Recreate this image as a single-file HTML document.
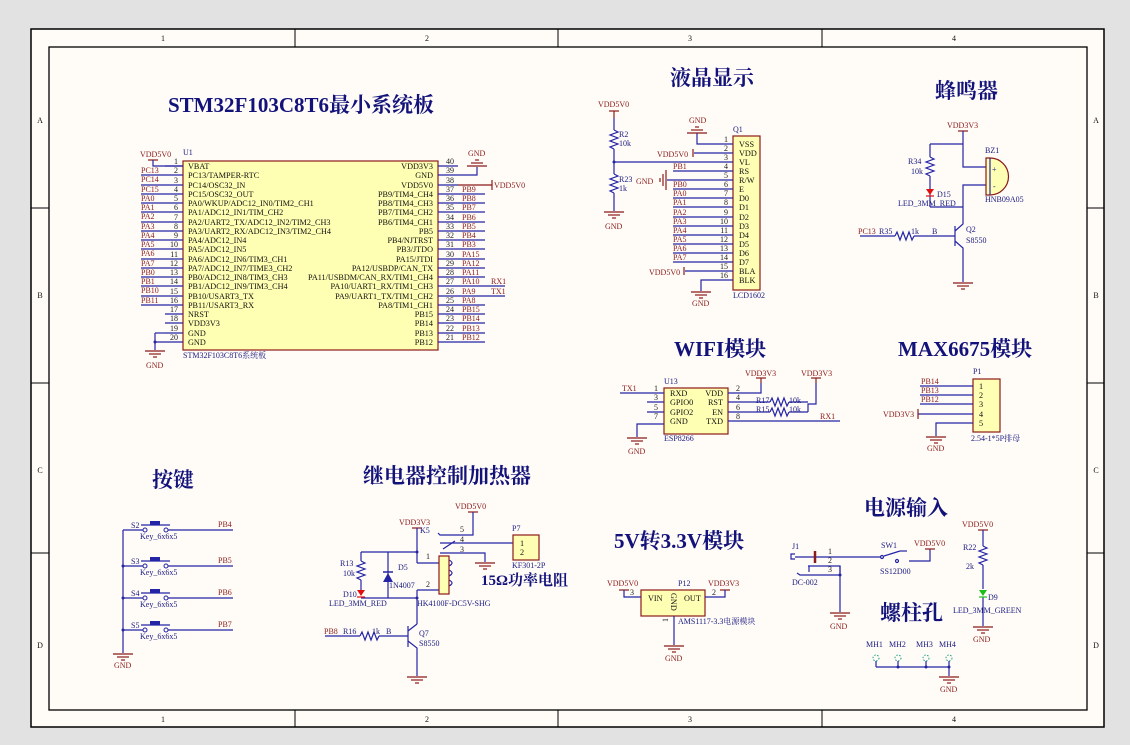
<!DOCTYPE html>
<html><head><meta charset="utf-8"><style>
html,body{margin:0;padding:0;background:#e2e2e2;}
svg{display:block;font-family:"Liberation Serif","Noto Serif CJK SC","Noto Sans CJK SC",serif;}
.w{stroke:#2424a6;stroke-width:1.2;fill:none}
.p{stroke:#8b1a1a;stroke-width:1.2;fill:none}
.b{stroke:#8b1a1a;stroke-width:1.2;fill:#ffffb3}
.k{stroke:#222;stroke-width:1;fill:none}
.n{fill:#8b1a1a;font-size:8px}
.c{fill:#1a1a80;font-size:8px}
.t{fill:#111;font-size:8.2px}
.pn{fill:#222;font-size:8px}
.h{fill:#12127a;font-size:21px;font-weight:bold}
.z{fill:#111;font-size:8px}
</style></head><body>
<svg width="1130" height="745" viewBox="0 0 1130 745" xmlns="http://www.w3.org/2000/svg">
<defs>
<g id="gd"><line x1="-10" y1="0" x2="10" y2="0" stroke="#8b1a1a" stroke-width="1.2"/><line x1="-6" y1="3" x2="6" y2="3" stroke="#8b1a1a" stroke-width="1.2"/><line x1="-2" y1="6" x2="2" y2="6" stroke="#8b1a1a" stroke-width="1.2"/></g>
<g id="rv"><polyline points="0,0 4,2 -4,5 4,8 -4,11 4,14 -4,17 0,19" stroke="#2424a6" stroke-width="1.2" fill="none"/></g>
<g id="rh"><polyline points="0,0 2,-4 5,4 8,-4 11,4 14,-4 17,4 19,0" stroke="#2424a6" stroke-width="1.2" fill="none"/></g>
</defs>
<rect x="0" y="0" width="1130" height="745" fill="#e2e2e2"/>
<rect x="31" y="29" width="1073" height="698" fill="#fffcf7" stroke="#000" stroke-width="1.5"/>
<rect x="49" y="47" width="1038" height="663" fill="none" stroke="#000" stroke-width="1.3"/>
<g stroke="#000" stroke-width="1">
<line x1="295" y1="29" x2="295" y2="47"/><line x1="558" y1="29" x2="558" y2="47"/><line x1="822" y1="29" x2="822" y2="47"/>
<line x1="295" y1="710" x2="295" y2="727"/><line x1="558" y1="710" x2="558" y2="727"/><line x1="822" y1="710" x2="822" y2="727"/>
<line x1="31" y1="208" x2="49" y2="208"/><line x1="31" y1="383" x2="49" y2="383"/><line x1="31" y1="553" x2="49" y2="553"/>
<line x1="1087" y1="208" x2="1104" y2="208"/><line x1="1087" y1="383" x2="1104" y2="383"/><line x1="1087" y1="553" x2="1104" y2="553"/>
</g>
<g class="z" text-anchor="middle">
<text x="163" y="41">1</text><text x="427" y="41">2</text><text x="690" y="41">3</text><text x="954" y="41">4</text>
<text x="163" y="722">1</text><text x="427" y="722">2</text><text x="690" y="722">3</text><text x="954" y="722">4</text>
<text x="40" y="123">A</text><text x="40" y="298">B</text><text x="40" y="473">C</text><text x="40" y="648">D</text>
<text x="1096" y="123">A</text><text x="1096" y="298">B</text><text x="1096" y="473">C</text><text x="1096" y="648">D</text>
</g>

<!-- Titles -->
<text class="h" x="168" y="112">STM32F103C8T6最小系统板</text>
<text class="h" x="670" y="85">液晶显示</text>
<text class="h" x="935" y="98">蜂鸣器</text>
<text class="h" x="674" y="356">WIFI模块</text>
<text class="h" x="898" y="356">MAX6675模块</text>
<text class="h" x="152" y="487">按键</text>
<text class="h" x="363" y="483">继电器控制加热器</text>
<text class="h" x="614" y="548">5V转3.3V模块</text>
<text class="h" x="864" y="515">电源输入</text>
<text class="h" x="880" y="620">螺柱孔</text>

<!-- MCU -->
<rect class="b" x="183" y="161" width="255" height="189"/>
<text class="c" x="183" y="155">U1</text>
<text class="c" x="183" y="358">STM32F103C8T6系统板</text>
<text class="n" x="140" y="157">VDD5V0</text>
<line class="p" x1="148" y1="160" x2="158" y2="160"/><polyline class="w" points="153,160 153,166 183,166"/>
<g class="w">
<line x1="165" y1="166" x2="183" y2="166"/>
<line x1="141" y1="175" x2="183" y2="175"/><line x1="141" y1="185" x2="183" y2="185"/><line x1="141" y1="194" x2="183" y2="194"/>
<line x1="141" y1="203" x2="183" y2="203"/><line x1="141" y1="212" x2="183" y2="212"/><line x1="141" y1="222" x2="183" y2="222"/>
<line x1="141" y1="231" x2="183" y2="231"/><line x1="141" y1="240" x2="183" y2="240"/><line x1="141" y1="249" x2="183" y2="249"/>
<line x1="141" y1="259" x2="183" y2="259"/><line x1="141" y1="268" x2="183" y2="268"/><line x1="141" y1="277" x2="183" y2="277"/>
<line x1="141" y1="286" x2="183" y2="286"/><line x1="141" y1="296" x2="183" y2="296"/><line x1="141" y1="305" x2="183" y2="305"/>
<line x1="165" y1="314" x2="183" y2="314"/><line x1="165" y1="323" x2="183" y2="323"/><line x1="165" y1="333" x2="183" y2="333"/>
<polyline points="183,342 155,342 155,350"/><line x1="155" y1="333" x2="155" y2="342"/><line x1="165" y1="333" x2="155" y2="333"/>
</g>
<circle cx="155" cy="342" r="1.5" fill="#2424a6"/>
<use href="#gd" x="155" y="351"/><text class="n" x="146" y="368">GND</text>
<g class="n">
<text x="141" y="173">PC13</text><text x="141" y="182">PC14</text><text x="141" y="192">PC15</text><text x="141" y="201">PA0</text>
<text x="141" y="210">PA1</text><text x="141" y="219">PA2</text><text x="141" y="229">PA3</text><text x="141" y="238">PA4</text>
<text x="141" y="247">PA5</text><text x="141" y="256">PA6</text><text x="141" y="266">PA7</text><text x="141" y="275">PB0</text>
<text x="141" y="284">PB1</text><text x="141" y="293">PB10</text><text x="141" y="303">PB11</text>
</g>
<g class="pn" text-anchor="end">
<text x="178" y="164">1</text><text x="178" y="173">2</text><text x="178" y="183">3</text><text x="178" y="192">4</text><text x="178" y="201">5</text>
<text x="178" y="210">6</text><text x="178" y="220">7</text><text x="178" y="229">8</text><text x="178" y="238">9</text><text x="178" y="247">10</text>
<text x="178" y="257">11</text><text x="178" y="266">12</text><text x="178" y="275">13</text><text x="178" y="284">14</text><text x="178" y="294">15</text>
<text x="178" y="303">16</text><text x="178" y="312">17</text><text x="178" y="321">18</text><text x="178" y="331">19</text><text x="178" y="340">20</text>
</g>
<g class="t">
<text x="188" y="169">VBAT</text><text x="188" y="178">PC13/TAMPER-RTC</text><text x="188" y="188">PC14/OSC32_IN</text><text x="188" y="197">PC15/OSC32_OUT</text>
<text x="188" y="206">PA0/WKUP/ADC12_IN0/TIM2_CH1</text><text x="188" y="215">PA1/ADC12_IN1/TIM_CH2</text><text x="188" y="225">PA2/UART2_TX/ADC12_IN2/TIM2_CH3</text>
<text x="188" y="234">PA3/UART2_RX/ADC12_IN3/TIM2_CH4</text><text x="188" y="243">PA4/ADC12_IN4</text><text x="188" y="252">PA5/ADC12_IN5</text>
<text x="188" y="262">PA6/ADC12_IN6/TIM3_CH1</text><text x="188" y="271">PA7/ADC12_IN7/TIME3_CH2</text><text x="188" y="280">PB0/ADC12_IN8/TIM3_CH3</text>
<text x="188" y="289">PB1/ADC12_IN9/TIM3_CH4</text><text x="188" y="299">PB10/USART3_TX</text><text x="188" y="308">PB11/USART3_RX</text>
<text x="188" y="317">NRST</text><text x="188" y="326">VDD3V3</text><text x="188" y="336">GND</text><text x="188" y="345">GND</text>
</g>
<g class="t" text-anchor="end">
<text x="433" y="169">VDD3V3</text><text x="433" y="178">GND</text><text x="433" y="188">VDD5V0</text><text x="433" y="197">PB9/TIM4_CH4</text>
<text x="433" y="206">PB8/TIM4_CH3</text><text x="433" y="215">PB7/TIM4_CH2</text><text x="433" y="225">PB6/TIM4_CH1</text><text x="433" y="234">PB5</text>
<text x="433" y="243">PB4/NJTRST</text><text x="433" y="252">PB3/JTDO</text><text x="433" y="262">PA15/JTDI</text><text x="433" y="271">PA12/USBDP/CAN_TX</text>
<text x="433" y="280">PA11/USBDM/CAN_RX/TIM1_CH4</text><text x="433" y="289">PA10/UART1_RX/TIM1_CH3</text><text x="433" y="299">PA9/UART1_TX/TIM1_CH2</text>
<text x="433" y="308">PA8/TIM1_CH1</text><text x="433" y="317">PB15</text><text x="433" y="326">PB14</text><text x="433" y="336">PB13</text><text x="433" y="345">PB12</text>
</g>
<g class="pn">
<text x="446" y="164">40</text><text x="446" y="173">39</text><text x="446" y="183">38</text><text x="446" y="192">37</text><text x="446" y="201">36</text>
<text x="446" y="210">35</text><text x="446" y="220">34</text><text x="446" y="229">33</text><text x="446" y="238">32</text><text x="446" y="247">31</text>
<text x="446" y="257">30</text><text x="446" y="266">29</text><text x="446" y="275">28</text><text x="446" y="284">27</text><text x="446" y="294">26</text>
<text x="446" y="303">25</text><text x="446" y="312">24</text><text x="446" y="321">23</text><text x="446" y="331">22</text><text x="446" y="340">21</text>
</g>
<g class="w">
<line x1="438" y1="166" x2="458" y2="166"/><polyline points="438,175 477,175 477,167"/><line x1="438" y1="185" x2="458" y2="185"/>
<line x1="438" y1="194" x2="485" y2="194"/><line x1="438" y1="203" x2="485" y2="203"/><line x1="438" y1="212" x2="485" y2="212"/>
<line x1="438" y1="222" x2="485" y2="222"/><line x1="438" y1="231" x2="485" y2="231"/><line x1="438" y1="240" x2="485" y2="240"/>
<line x1="438" y1="249" x2="485" y2="249"/><line x1="438" y1="259" x2="485" y2="259"/><line x1="438" y1="268" x2="485" y2="268"/>
<line x1="438" y1="277" x2="485" y2="277"/><line x1="438" y1="286" x2="505" y2="286"/><line x1="438" y1="296" x2="505" y2="296"/>
<line x1="438" y1="305" x2="485" y2="305"/><line x1="438" y1="314" x2="485" y2="314"/><line x1="438" y1="323" x2="485" y2="323"/>
<line x1="438" y1="333" x2="485" y2="333"/><line x1="438" y1="342" x2="485" y2="342"/>
</g>
<line class="p" x1="458" y1="185" x2="492" y2="185"/><line class="p" x1="492" y1="180" x2="492" y2="190"/>
<text class="n" x="494" y="188">VDD5V0</text>
<g class="p"><line x1="467" y1="166" x2="487" y2="166"/><line x1="471" y1="163" x2="483" y2="163"/><line x1="475" y1="160" x2="479" y2="160"/></g>
<text class="n" x="468" y="156">GND</text>
<g class="n">
<text x="462" y="192">PB9</text><text x="462" y="201">PB8</text><text x="462" y="210">PB7</text><text x="462" y="220">PB6</text>
<text x="462" y="229">PB5</text><text x="462" y="238">PB4</text><text x="462" y="247">PB3</text><text x="462" y="257">PA15</text>
<text x="462" y="266">PA12</text><text x="462" y="275">PA11</text><text x="462" y="284">PA10</text><text x="462" y="294">PA9</text>
<text x="462" y="303">PA8</text><text x="462" y="312">PB15</text><text x="462" y="321">PB14</text><text x="462" y="331">PB13</text><text x="462" y="340">PB12</text>
<text x="491" y="284">RX1</text><text x="491" y="294">TX1</text>
</g>

<!-- LCD -->
<rect class="b" x="733" y="136" width="27" height="154"/>
<text class="c" x="733" y="132">Q1</text><text class="c" x="733" y="298">LCD1602</text>
<text class="n" x="598" y="107">VDD5V0</text>
<line class="p" x1="609" y1="111" x2="619" y2="111"/><line class="p" x1="614" y1="111" x2="614" y2="118"/>
<line class="w" x1="614" y1="118" x2="614" y2="130"/><use href="#rv" x="614" y="130"/><line class="w" x1="614" y1="149" x2="614" y2="174"/>
<use href="#rv" x="614" y="174"/><line class="w" x1="614" y1="193" x2="614" y2="211"/>
<use href="#gd" x="614" y="212"/><text class="n" x="605" y="229">GND</text>
<text class="c" x="619" y="137">R2</text><text class="c" x="619" y="146">10k</text>
<text class="c" x="619" y="182">R23</text><text class="c" x="619" y="191">1k</text>
<circle cx="614" cy="162" r="1.5" fill="#2424a6"/>
<g class="w">
<line x1="614" y1="162" x2="733" y2="162"/>
<polyline points="697,133 697,144 733,144"/><line x1="694" y1="153" x2="733" y2="153"/>
<line x1="673" y1="171" x2="733" y2="171"/><line x1="667" y1="180" x2="733" y2="180"/>
<line x1="673" y1="189" x2="733" y2="189"/><line x1="673" y1="198" x2="733" y2="198"/><line x1="673" y1="207" x2="733" y2="207"/>
<line x1="673" y1="217" x2="733" y2="217"/><line x1="673" y1="226" x2="733" y2="226"/><line x1="673" y1="235" x2="733" y2="235"/>
<line x1="673" y1="244" x2="733" y2="244"/><line x1="673" y1="253" x2="733" y2="253"/><line x1="673" y1="262" x2="733" y2="262"/>
<line x1="685" y1="271" x2="733" y2="271"/><polyline points="733,280 701,280 701,291"/>
</g>
<g class="p"><line x1="687" y1="133" x2="707" y2="133"/><line x1="691" y1="130" x2="703" y2="130"/><line x1="695" y1="127" x2="699" y2="127"/>
<line x1="693" y1="149" x2="693" y2="157"/><line x1="684" y1="267" x2="684" y2="275"/>
<line x1="666" y1="170" x2="666" y2="190"/><line x1="663" y1="174" x2="663" y2="186"/><line x1="660" y1="178" x2="660" y2="182"/></g>
<use href="#gd" x="701" y="292"/><text class="n" x="692" y="306">GND</text>
<text class="n" x="689" y="123">GND</text><text class="n" x="657" y="157">VDD5V0</text><text class="n" x="636" y="184">GND</text>
<text class="n" x="649" y="275">VDD5V0</text>
<g class="n">
<text x="673" y="169">PB1</text><text x="673" y="187">PB0</text><text x="673" y="196">PA0</text><text x="673" y="205">PA1</text>
<text x="673" y="215">PA2</text><text x="673" y="224">PA3</text><text x="673" y="233">PA4</text><text x="673" y="242">PA5</text>
<text x="673" y="251">PA6</text><text x="673" y="260">PA7</text>
</g>
<g class="pn" text-anchor="end">
<text x="728" y="142">1</text><text x="728" y="151">2</text><text x="728" y="160">3</text><text x="728" y="169">4</text><text x="728" y="178">5</text>
<text x="728" y="187">6</text><text x="728" y="196">7</text><text x="728" y="205">8</text><text x="728" y="215">9</text><text x="728" y="224">10</text>
<text x="728" y="233">11</text><text x="728" y="242">12</text><text x="728" y="251">13</text><text x="728" y="260">14</text><text x="728" y="269">15</text><text x="728" y="278">16</text>
</g>
<g class="t">
<text x="739" y="147">VSS</text><text x="739" y="156">VDD</text><text x="739" y="165">VL</text><text x="739" y="174">RS</text>
<text x="739" y="183">R/W</text><text x="739" y="192">E</text><text x="739" y="201">D0</text><text x="739" y="210">D1</text>
<text x="739" y="220">D2</text><text x="739" y="229">D3</text><text x="739" y="238">D4</text><text x="739" y="247">D5</text>
<text x="739" y="256">D6</text><text x="739" y="265">D7</text><text x="739" y="274">BLA</text><text x="739" y="283">BLK</text>
</g>

<!-- Buzzer -->
<text class="n" x="947" y="128">VDD3V3</text>
<line class="p" x1="958" y1="131" x2="968" y2="131"/>
<g class="w">
<polyline points="963,131 963,167 986,167"/><polyline points="930,144 963,144"/>
<line x1="930" y1="144" x2="930" y2="157"/><line x1="930" y1="176" x2="930" y2="207"/>
<polyline points="986,185 963,185 963,220"/><line x1="930" y1="207" x2="963" y2="207"/>
<line x1="860" y1="236" x2="895" y2="236"/><line x1="914" y1="236" x2="955" y2="236"/>
<line x1="955" y1="226" x2="955" y2="246"/><polyline points="955,231 963,224 963,220"/><polyline points="955,241 963,248 963,282"/>
</g>
<use href="#rv" x="930" y="157"/><use href="#rh" x="895" y="236"/>
<polygon points="926,189 934,189 930,195" fill="#e01010"/><line x1="926" y1="196" x2="934" y2="196" stroke="#e01010" stroke-width="1.2"/>
<path d="M986,158 L990,158 A16,16 0 0 1 990,195 L986,195 Z" class="b" stroke="#2424a6" fill="#fffcf7"/>
<line x1="990" y1="158" x2="990" y2="195" stroke="#2424a6" stroke-width="1.2"/>
<text class="c" x="992" y="172">+</text><text class="c" x="993" y="189">-</text>
<use href="#gd" x="963" y="283"/>
<text class="c" x="985" y="153">BZ1</text><text class="c" x="985" y="202">HNB09A05</text>
<text class="c" x="908" y="164">R34</text><text class="c" x="911" y="174">10k</text>
<text class="c" x="937" y="197">D15</text><text class="c" x="898" y="206">LED_3MM_RED</text>
<text class="n" x="858" y="234">PC13</text><text class="c" x="879" y="234">R35</text><text class="c" x="911" y="234">1k</text><text class="c" x="932" y="234">B</text>
<text class="c" x="966" y="232">Q2</text><text class="c" x="966" y="243">S8550</text>

<!-- WIFI -->
<rect class="b" x="664" y="388" width="64" height="46"/>
<text class="c" x="664" y="384">U13</text><text class="c" x="664" y="441">ESP8266</text>
<g class="t"><text x="670" y="396">RXD</text><text x="670" y="405">GPIO0</text><text x="670" y="415">GPIO2</text><text x="670" y="424">GND</text></g>
<g class="t" text-anchor="end"><text x="723" y="396">VDD</text><text x="723" y="405">RST</text><text x="723" y="415">EN</text><text x="723" y="424">TXD</text></g>
<g class="pn"><text x="654" y="391">1</text><text x="654" y="400">3</text><text x="654" y="410">5</text><text x="654" y="419">7</text>
<text x="736" y="391">2</text><text x="736" y="400">4</text><text x="736" y="410">6</text><text x="736" y="419">8</text></g>
<g class="w">
<line x1="620" y1="393" x2="664" y2="393"/><line x1="647" y1="402" x2="664" y2="402"/><line x1="647" y1="412" x2="664" y2="412"/>
<polyline points="664,424 637,424 637,437"/>
<polyline points="728,393 761,393 761,383"/>
<line x1="728" y1="402" x2="770" y2="402"/><line x1="789" y1="402" x2="808" y2="402"/>
<line x1="728" y1="412" x2="770" y2="412"/><line x1="789" y1="412" x2="808" y2="412"/>
<polyline points="808,412 808,404 816,404 816,383"/>
<line x1="728" y1="421" x2="840" y2="421"/>
</g>
<use href="#rh" x="770" y="402"/><use href="#rh" x="770" y="412"/>
<line class="p" x1="756" y1="378" x2="766" y2="378"/><line class="p" x1="761" y1="378" x2="761" y2="383"/>
<line class="p" x1="811" y1="378" x2="821" y2="378"/><line class="p" x1="816" y1="378" x2="816" y2="383"/>
<text class="n" x="745" y="376">VDD3V3</text><text class="n" x="801" y="376">VDD3V3</text>
<use href="#gd" x="637" y="438"/><text class="n" x="628" y="454">GND</text>
<text class="n" x="622" y="391">TX1</text><text class="n" x="820" y="419">RX1</text>
<text class="c" x="756" y="403">R17</text><text class="c" x="789" y="403">10k</text>
<text class="c" x="756" y="412">R15</text><text class="c" x="789" y="412">10k</text>

<!-- P1 -->
<rect class="b" x="973" y="379" width="27" height="53"/>
<text class="c" x="973" y="374">P1</text><text class="c" x="971" y="441">2.54-1*5P排母</text>
<g class="t"><text x="979" y="389">1</text><text x="979" y="398">2</text><text x="979" y="407">3</text><text x="979" y="417">4</text><text x="979" y="426">5</text></g>
<g class="w"><line x1="920" y1="386" x2="973" y2="386"/><line x1="920" y1="395" x2="973" y2="395"/><line x1="920" y1="404" x2="973" y2="404"/>
<line x1="918" y1="414" x2="973" y2="414"/><polyline points="973,423 936,423 936,436"/></g>
<line class="p" x1="918" y1="409" x2="918" y2="419"/>
<g class="n"><text x="921" y="384">PB14</text><text x="921" y="393">PB13</text><text x="921" y="402">PB12</text><text x="883" y="417">VDD3V3</text></g>
<use href="#gd" x="936" y="437"/><text class="n" x="927" y="451">GND</text>

<!-- Buttons -->
<g class="w">
<line x1="123" y1="530" x2="123" y2="653"/>
<line x1="123" y1="530" x2="143" y2="530"/><line x1="168" y1="530" x2="233" y2="530"/>
<line x1="123" y1="566" x2="143" y2="566"/><line x1="168" y1="566" x2="233" y2="566"/>
<line x1="123" y1="598" x2="143" y2="598"/><line x1="168" y1="598" x2="233" y2="598"/>
<line x1="123" y1="630" x2="143" y2="630"/><line x1="168" y1="630" x2="233" y2="630"/>
<circle cx="145" cy="530" r="2" stroke-width="1"/><circle cx="166" cy="530" r="2" stroke-width="1"/>
<circle cx="145" cy="566" r="2" stroke-width="1"/><circle cx="166" cy="566" r="2" stroke-width="1"/>
<circle cx="145" cy="598" r="2" stroke-width="1"/><circle cx="166" cy="598" r="2" stroke-width="1"/>
<circle cx="145" cy="630" r="2" stroke-width="1"/><circle cx="166" cy="630" r="2" stroke-width="1"/>
<line x1="141" y1="525" x2="170" y2="525"/><line x1="141" y1="561" x2="170" y2="561"/><line x1="141" y1="593" x2="170" y2="593"/><line x1="141" y1="625" x2="170" y2="625"/>
</g>
<g fill="#2424a6"><rect x="150" y="521" width="10" height="4"/><rect x="150" y="557" width="10" height="4"/><rect x="150" y="589" width="10" height="4"/><rect x="150" y="621" width="10" height="4"/>
<circle cx="123" cy="566" r="1.5"/><circle cx="123" cy="598" r="1.5"/><circle cx="123" cy="630" r="1.5"/></g>
<use href="#gd" x="123" y="654"/><text class="n" x="114" y="668">GND</text>
<g class="c"><text x="131" y="528">S2</text><text x="140" y="539">Key_6x6x5</text><text x="131" y="564">S3</text><text x="140" y="575">Key_6x6x5</text>
<text x="131" y="596">S4</text><text x="140" y="607">Key_6x6x5</text><text x="131" y="628">S5</text><text x="140" y="639">Key_6x6x5</text></g>
<g class="n"><text x="218" y="527">PB4</text><text x="218" y="563">PB5</text><text x="218" y="595">PB6</text><text x="218" y="627">PB7</text></g>

<!-- Relay -->
<text class="n" x="455" y="509">VDD5V0</text><line class="p" x1="468" y1="512" x2="478" y2="512"/>
<text class="n" x="399" y="525">VDD3V3</text><line class="p" x1="412" y1="528" x2="422" y2="528"/>
<g class="w">
<polyline points="473,512 473,535 440,535 438,533"/>
<polyline points="440,543 513,543"/><polyline points="443,549 455,541"/>
<polyline points="440,553 485,553 485,562"/>
<line x1="417" y1="528" x2="417" y2="563"/><line x1="417" y1="563" x2="439" y2="563"/>
<line x1="361" y1="552" x2="417" y2="552"/><line x1="361" y1="552" x2="361" y2="561"/><line x1="361" y1="580" x2="361" y2="590"/>
<line x1="361" y1="598" x2="417" y2="598"/><line x1="388" y1="552" x2="388" y2="598"/>
<line x1="417" y1="590" x2="439" y2="590"/><line x1="417" y1="590" x2="417" y2="624"/>
<line x1="325" y1="636" x2="360" y2="636"/><line x1="379" y1="636" x2="408" y2="636"/>
<line x1="408" y1="626" x2="408" y2="647"/><polyline points="408,631 417,624"/><polyline points="408,641 417,648 417,676"/>
<path d="M449,560 q6,3 0,6 M449,570 q6,3 0,6 M449,580 q6,3 0,6"/>
</g>
<use href="#rv" x="361" y="561"/><use href="#rh" x="360" y="636"/>
<polygon points="383,582 393,582 388,573" fill="#2424a6"/><line x1="383" y1="572" x2="393" y2="572" stroke="#2424a6" stroke-width="1.5"/>
<polygon points="357,590 365,590 361,596" fill="#e01010"/><line x1="357" y1="597" x2="365" y2="597" stroke="#e01010" stroke-width="1.2"/>
<rect class="b" x="439" y="556" width="10" height="38" stroke="#2424a6"/>
<circle cx="417" cy="552" r="1.5" fill="#2424a6"/><circle cx="417" cy="598" r="1.5" fill="#2424a6"/>
<use href="#gd" x="485" y="563"/><use href="#gd" x="417" y="677"/>
<rect class="b" x="513" y="535" width="26" height="25"/>
<text class="c" x="512" y="531">P7</text><text class="t" x="520" y="546">1</text><text class="t" x="520" y="555">2</text><text class="c" x="512" y="568">KF301-2P</text>
<text x="481" y="585" style="fill:#12127a;font-size:15px;font-weight:bold">15Ω功率电阻</text>
<g class="c"><text x="420" y="533">K5</text><text x="340" y="566">R13</text><text x="343" y="576">10k</text><text x="398" y="570">D5</text>
<text x="389" y="588">1N4007</text><text x="343" y="597">D10</text><text x="329" y="606">LED_3MM_RED</text><text x="417" y="606">HK4100F-DC5V-SHG</text>
<text x="343" y="634">R16</text><text x="372" y="634">1k</text><text x="386" y="634">B</text><text x="419" y="636">Q7</text><text x="419" y="646">S8550</text></g>
<g class="pn"><text x="460" y="532">5</text><text x="460" y="542">4</text><text x="460" y="552">3</text><text x="426" y="559">1</text><text x="426" y="587">2</text></g>
<text class="n" x="324" y="634">PB8</text>

<!-- 5V to 3.3V -->
<rect class="b" x="641" y="590" width="64" height="26"/>
<text class="c" x="678" y="586">P12</text><text class="c" x="678" y="624">AMS1117-3.3电源模块</text>
<text class="t" x="648" y="601">VIN</text><text class="t" x="684" y="601">OUT</text>
<text class="t" x="0" y="0" transform="translate(671,593) rotate(90)">GND</text>
<text class="n" x="607" y="586">VDD5V0</text><text class="n" x="708" y="586">VDD3V3</text>
<g class="p"><line x1="619" y1="590" x2="629" y2="590"/><line x1="720" y1="590" x2="730" y2="590"/></g>
<g class="w"><polyline points="624,590 624,597 641,597"/><polyline points="705,597 725,597 725,590"/><line x1="674" y1="616" x2="674" y2="645"/></g>
<text class="pn" x="630" y="595">3</text><text class="pn" x="712" y="595">2</text><text class="pn" x="0" y="0" transform="translate(668,622) rotate(-90)">1</text>
<use href="#gd" x="674" y="646"/><text class="n" x="665" y="661">GND</text>

<!-- Power input -->
<text class="c" x="792" y="549">J1</text><text class="c" x="792" y="585">DC-002</text>
<g class="w">
<polyline points="795,554 791,554 791,559 795,559"/><line x1="795" y1="557" x2="815" y2="557"/>
<line x1="815" y1="557" x2="880" y2="557"/>
<polyline points="808,566 840,566 840,575"/><polyline points="797,573 800,575 840,575"/><line x1="840" y1="566" x2="840" y2="612"/>
<polyline points="809,566 809,572"/>
<circle cx="882" cy="557" r="1.5"/><line x1="884" y1="556" x2="900" y2="551"/><line x1="900" y1="551" x2="907" y2="551"/>
<circle cx="897" cy="561" r="1.5"/><polyline points="909,561 930,561 930,549"/>
</g>
<line x1="815" y1="551" x2="815" y2="563" stroke="#8b1a1a" stroke-width="2.5"/>
<circle cx="840" cy="575" r="1.5" fill="#2424a6"/>
<g class="pn"><text x="828" y="554">1</text><text x="828" y="563">2</text><text x="828" y="572">3</text></g>
<use href="#gd" x="840" y="613"/><text class="n" x="830" y="629">GND</text>
<text class="c" x="881" y="548">SW1</text><text class="c" x="880" y="574">SS12D00</text>
<text class="n" x="914" y="546">VDD5V0</text><line class="p" x1="925" y1="549" x2="935" y2="549"/>
<text class="n" x="962" y="527">VDD5V0</text><line class="p" x1="978" y1="530" x2="988" y2="530"/>
<g class="w"><line x1="983" y1="530" x2="983" y2="546"/><line x1="983" y1="565" x2="983" y2="589"/><line x1="983" y1="597" x2="983" y2="626"/></g>
<use href="#rv" x="983" y="546"/>
<polygon points="979,590 987,590 983,596" fill="#19c019"/><line x1="979" y1="597" x2="987" y2="597" stroke="#19c019" stroke-width="1.2"/>
<text class="c" x="963" y="550">R22</text><text class="c" x="966" y="569">2k</text><text class="c" x="988" y="600">D9</text><text class="c" x="953" y="613">LED_3MM_GREEN</text>
<use href="#gd" x="983" y="627"/><text class="n" x="973" y="642">GND</text>

<!-- Mounting holes -->
<g class="c"><text x="866" y="647">MH1</text><text x="889" y="647">MH2</text><text x="916" y="647">MH3</text><text x="939" y="647">MH4</text></g>
<g stroke="#1aa080" stroke-width="1" fill="none" stroke-dasharray="1.5,1.5">
<circle cx="876" cy="658" r="3"/><circle cx="898" cy="658" r="3"/><circle cx="926" cy="658" r="3"/><circle cx="949" cy="658" r="3"/></g>
<g class="w"><line x1="876" y1="661" x2="876" y2="667"/><line x1="898" y1="661" x2="898" y2="667"/><line x1="926" y1="661" x2="926" y2="667"/>
<line x1="949" y1="661" x2="949" y2="676"/><line x1="876" y1="667" x2="949" y2="667"/></g>
<g fill="#2424a6"><circle cx="898" cy="667" r="1.5"/><circle cx="926" cy="667" r="1.5"/><circle cx="949" cy="667" r="1.5"/></g>
<use href="#gd" x="949" y="677"/><text class="n" x="940" y="692">GND</text>
</svg>
</body></html>
